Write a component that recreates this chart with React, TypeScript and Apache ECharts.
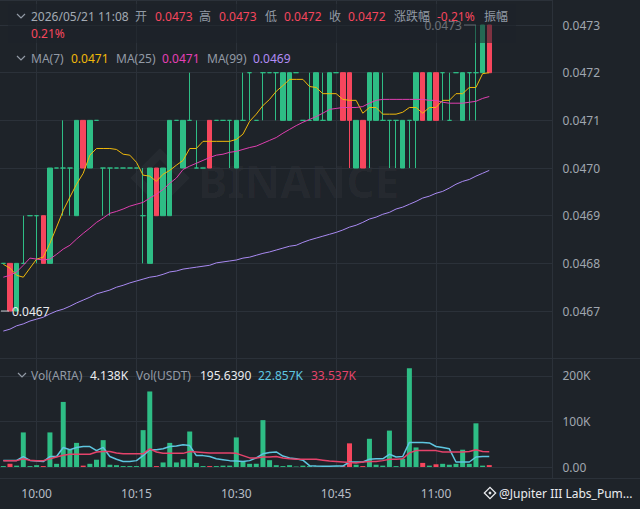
import React, { useEffect, useRef } from 'react';
import * as echarts from 'echarts';

const UP = '#2ebd85';
const DOWN = '#f6465d';
const GRID = '#2b3139';
const BG = '#1e2329';
const LABEL = '#929aa5';
const VALUE = '#eaecef';
const FONT = '"Noto Sans", "Noto Sans CJK SC", sans-serif';

// 1-minute candles, 09:55 .. 11:08, plus empty slots on the right
const firstMinute = 9 * 60 + 55;
const slotCount = 83;
const timeTicks = ['10:00', '10:15', '10:30', '10:45', '11:00'];

const opens = [
  0.0468, 0.0468, 0.0467, 0.0468, 0.0469, 0.0469, 0.0469, 0.0468, 0.047, 0.047,
  0.047, 0.0469, 0.0471, 0.047, 0.0471, 0.047, 0.047, 0.047, 0.047, 0.047,
  0.047, 0.0469, 0.0468, 0.047, 0.0469, 0.0469, 0.0471, 0.047, 0.0471, 0.047,
  0.047, 0.0471, 0.0471, 0.0471, 0.0471, 0.047, 0.0471, 0.0472, 0.0471, 0.0472,
  0.0472, 0.0472, 0.0471, 0.0471, 0.0472, 0.0471, 0.0471, 0.0471, 0.0471, 0.0471,
  0.0472, 0.0472, 0.0472, 0.047, 0.0471, 0.0471, 0.0471, 0.0471, 0.0471, 0.0471,
  0.047, 0.0471, 0.0471, 0.0472, 0.0471, 0.0472, 0.0472, 0.0471, 0.0472, 0.0471,
  0.0472, 0.0472, 0.0472, 0.0473,
];
const closes = [
  0.0468, 0.0467, 0.0468, 0.0468, 0.0469, 0.0469, 0.0468, 0.047, 0.047, 0.047,
  0.047, 0.0471, 0.047, 0.0471, 0.0471, 0.047, 0.047, 0.047, 0.047, 0.047,
  0.047, 0.0469, 0.047, 0.0469, 0.047, 0.0471, 0.0471, 0.0471, 0.0471, 0.047,
  0.047, 0.047, 0.0471, 0.0471, 0.0471, 0.0471, 0.0471, 0.0472, 0.0471, 0.0472,
  0.0472, 0.0472, 0.0472, 0.0472, 0.0472, 0.0471, 0.0471, 0.0472, 0.0471, 0.0472,
  0.0472, 0.0471, 0.0471, 0.0471, 0.047, 0.0472, 0.0472, 0.0471, 0.0471, 0.0471,
  0.0471, 0.0471, 0.0472, 0.0471, 0.0472, 0.0471, 0.0472, 0.0471, 0.0472, 0.0472,
  0.0472, 0.0472, 0.0473, 0.0472,
];
const lows = [
  0.0468, 0.0467, 0.0467, 0.0468, 0.0469, 0.0468, 0.0468, 0.0468, 0.047, 0.0469,
  0.0469, 0.0469, 0.047, 0.047, 0.0471, 0.0469, 0.0469, 0.047, 0.047, 0.047,
  0.047, 0.0468, 0.0468, 0.0469, 0.0469, 0.0469, 0.0471, 0.047, 0.0471, 0.047,
  0.047, 0.047, 0.0471, 0.0471, 0.047, 0.047, 0.0471, 0.0471, 0.0471, 0.0471,
  0.0472, 0.0471, 0.0471, 0.0471, 0.0472, 0.0471, 0.0471, 0.0471, 0.0471, 0.0471,
  0.0472, 0.0471, 0.047, 0.047, 0.047, 0.047, 0.0471, 0.0471, 0.047, 0.047,
  0.047, 0.047, 0.047, 0.0471, 0.0471, 0.0471, 0.0471, 0.0471, 0.0472, 0.0471,
  0.0471, 0.0471, 0.0472, 0.0472,
];
const highs = [
  0.0468, 0.0468, 0.0468, 0.0469, 0.0469, 0.0469, 0.0469, 0.047, 0.047, 0.0471,
  0.047, 0.0471, 0.0471, 0.0471, 0.0471, 0.047, 0.047, 0.047, 0.047, 0.047,
  0.047, 0.047, 0.047, 0.047, 0.047, 0.0471, 0.0471, 0.0471, 0.0472, 0.0471,
  0.047, 0.0471, 0.0471, 0.0471, 0.0471, 0.0471, 0.0472, 0.0472, 0.0471, 0.0472,
  0.0472, 0.0472, 0.0472, 0.0472, 0.0472, 0.0471, 0.0472, 0.0472, 0.0472, 0.0472,
  0.0472, 0.0472, 0.0472, 0.0471, 0.0471, 0.0472, 0.0472, 0.0472, 0.0471, 0.0471,
  0.0471, 0.0471, 0.0472, 0.0472, 0.0472, 0.0472, 0.0472, 0.0472, 0.0472, 0.0472,
  0.0472, 0.0473, 0.0473, 0.0473,
];
// volume, in thousands
const volumes = [
  2, 7, 3, 76, 2, 4, 2, 76, 7, 143,
  38, 53, 3, 7, 16, 59, 5, 4, 2, 2,
  2, 81, 166, 2, 10, 53, 10, 17, 78, 9,
  2, 2, 2, 3, 3, 65, 12, 7, 7, 103,
  15, 4, 2, 4, 1, 3, 2, 1, 1, 1,
  1, 2, 52, 5, 2, 62, 5, 3, 80, 2,
  18, 217, 43, 9, 3, 6, 7, 5, 7, 38,
  7, 96, 3, 4.138,
];
const ma7 = [
  0.046798, 0.04679, 0.046775, 0.046771, 0.04679, 0.046809, 0.046813, 0.046842, 0.046876, 0.046911,
  0.046939, 0.046966, 0.046989, 0.047027, 0.047041, 0.047041, 0.047041, 0.047039, 0.047029, 0.047027,
  0.047012, 0.046985, 0.046983, 0.046972, 0.046987, 0.046995, 0.047006, 0.047016, 0.047041, 0.047041,
  0.047056, 0.047056, 0.047056, 0.047056, 0.047056, 0.04706, 0.047071, 0.047098, 0.047113, 0.047131,
  0.047144, 0.047161, 0.047173, 0.047186, 0.047186, 0.047186, 0.047171, 0.047169, 0.047156, 0.047156,
  0.047156, 0.047144, 0.047142, 0.047142, 0.047115, 0.047127, 0.047127, 0.047113, 0.047113, 0.047113,
  0.047117, 0.047127, 0.047127, 0.047115, 0.047127, 0.047127, 0.047142, 0.047142, 0.047156, 0.047156,
  0.047169, 0.047169, 0.047198, 0.0472,
];
const ma25 = [
  0.046771, 0.046775, 0.046782, 0.046796, 0.046811, 0.046809, 0.046807, 0.046809, 0.046819, 0.04683,
  0.046838, 0.046851, 0.046863, 0.046874, 0.046886, 0.046895, 0.046905, 0.046909, 0.046914, 0.04692,
  0.046924, 0.046928, 0.046937, 0.046945, 0.046955, 0.046968, 0.046979, 0.046997, 0.047004, 0.04701,
  0.047016, 0.047022, 0.047027, 0.047029, 0.047033, 0.047035, 0.047039, 0.047043, 0.047046, 0.047052,
  0.047058, 0.047064, 0.047073, 0.047081, 0.047089, 0.047096, 0.047102, 0.047108, 0.047115, 0.047123,
  0.047125, 0.047127, 0.047127, 0.047127, 0.047129, 0.047136, 0.047142, 0.047144, 0.047144, 0.047144,
  0.047144, 0.047144, 0.047144, 0.047144, 0.047142, 0.047142, 0.047138, 0.047136, 0.047136, 0.047136,
  0.047138, 0.04714, 0.047146, 0.04715,
];
const ma99 = [
  0.046658, 0.046662, 0.046669, 0.046673, 0.046679, 0.046683, 0.046687, 0.046694, 0.0467, 0.046704,
  0.04671, 0.046717, 0.046723, 0.046729, 0.046736, 0.04674, 0.046744, 0.04675, 0.046754, 0.046759,
  0.046763, 0.046767, 0.046771, 0.046773, 0.046777, 0.046782, 0.046784, 0.046788, 0.04679, 0.046792,
  0.046794, 0.046796, 0.046801, 0.046803, 0.046805, 0.046807, 0.046811, 0.046813, 0.046817, 0.046821,
  0.046824, 0.046828, 0.046832, 0.046836, 0.046838, 0.046844, 0.046849, 0.046853, 0.046857, 0.046861,
  0.046865, 0.04687, 0.046876, 0.04688, 0.046886, 0.046893, 0.046897, 0.046903, 0.046907, 0.046914,
  0.046918, 0.046924, 0.04693, 0.046937, 0.046941, 0.046947, 0.046951, 0.046958, 0.046966, 0.046972,
  0.046976, 0.046983, 0.046989, 0.046995,
];
// volume averages, in thousands
const volMa5 = [
  14.5, 14.5, 14.5, 23, 14.5, 13, 12, 23, 23, 43,
  38, 43, 45, 45, 36, 43, 23, 17, 12, 12,
  14, 25, 38, 38, 40, 45, 46, 49, 47, 25,
  25, 23, 18, 16, 14, 13, 12, 14, 20, 29,
  32, 33, 24, 20, 18, 15, 3, 2, 1.5, 1.5,
  2, 2, 11, 11, 11, 17, 18, 18, 28, 22,
  23, 54, 54, 54, 53, 45, 43, 40, 11, 11,
  11, 22, 23, 22.857,
];
const volMa10 = [
  14, 14, 14, 18, 15, 14, 14, 18, 22, 26,
  28, 28, 28, 28, 33, 34, 34, 31, 29, 29,
  29, 29, 40, 33, 30, 30, 30, 30, 34, 33,
  32, 31, 31, 31, 31, 30, 25, 20, 20, 22,
  22, 23, 20, 18, 17, 17, 17, 17, 15, 13,
  12, 11, 10, 9, 11, 12, 12, 14, 17, 17,
  18, 31, 36, 36, 36, 36, 33, 33, 33, 33,
  34, 38, 34, 33.537,
];
const headerTime = '2026/05/21 11:08';
const maLegend = ['0.0471', '0.0471', '0.0469'];
const volLegend = ['4.138K', '195.6390', '22.857K', '33.537K'];

const times = Array.from({ length: slotCount }, (_, i) => {
  const m = firstMinute + i;
  return String(Math.floor(m / 60)).padStart(2, '0') + ':' + String(m % 60).padStart(2, '0');
});

function txt(x: number, y: number, text: string, fill: string, extra: any = {}) {
  return {
    type: 'text', x, y, z: 101, silent: true,
    style: { text, fill, fontSize: 12, fontFamily: FONT, verticalAlign: 'middle', ...extra },
  };
}
function chevron(x: number, y: number) {
  return {
    type: 'polyline', z: 101, silent: true,
    shape: { points: [[x, y], [x + 4, y + 4], [x + 8, y]] },
    style: { stroke: LABEL, lineWidth: 1.2, fill: 'none' },
  };
}

export default function App() {
  const ref = useRef<HTMLDivElement>(null);
  useEffect(() => {
    if (!ref.current) return;
    const chart = echarts.init(ref.current, null, { renderer: 'svg' });
    const L = opens.length - 1;
    const prevClose = closes[L - 1];
    const chg = ((closes[L] - prevClose) / prevClose) * 100;
    const amp = ((highs[L] - lows[L]) / prevClose) * 100;
    const lastColor = closes[L] < opens[L] ? DOWN : UP;

    const candleData = opens.map((o, i) => {
      const v = [o, closes[i], lows[i], highs[i]];
      if (o === closes[i]) {
        return { value: v, itemStyle: { color: UP, color0: UP, borderColor: UP, borderColor0: UP } };
      }
      return v;
    });
    const volData = volumes.map((v, i) => ({
      value: v,
      itemStyle: { color: closes[i] < opens[i] ? DOWN : UP },
    }));
    const vLines = timeTicks.map((t) => ({ xAxis: t }));

    const wm = 'rgba(255,255,255,0.035)';
    const graphic: any[] = [
      // watermark
      { type: 'rect', x: 160, y: 178, rotation: Math.PI / 4, z: 0, silent: true,
        shape: { x: -17, y: -17, width: 34, height: 34 }, style: { fill: 'none', stroke: wm, lineWidth: 8 } },
      { type: 'rect', x: 160, y: 178, rotation: Math.PI / 4, z: 0, silent: true,
        shape: { x: -5, y: -5, width: 10, height: 10 }, style: { fill: wm } },
      { type: 'text', x: 198, y: 181, z: 0, silent: true,
        style: { text: 'BINANCE', fill: wm, fontSize: 44, fontWeight: 'bold', fontFamily: FONT, verticalAlign: 'middle' } },
      // header backdrop
      { type: 'rect', z: 100, silent: true, shape: { x: 8, y: 4, width: 508, height: 39 },
        style: { fill: 'rgba(30,35,41,0.55)' } },
      chevron(17, 14),
      txt(31, 16, headerTime, '#a3aab3'),
      txt(135, 16, '开', LABEL), txt(155, 16, opens[L].toFixed(4), lastColor),
      txt(199, 16, '高', LABEL), txt(219, 16, highs[L].toFixed(4), lastColor),
      txt(265, 16, '低', LABEL), txt(284, 16, lows[L].toFixed(4), lastColor),
      txt(329, 16, '收', LABEL), txt(348, 16, closes[L].toFixed(4), lastColor),
      txt(394, 16, '涨跌幅', LABEL), txt(437, 16, chg.toFixed(2) + '%', lastColor),
      txt(484, 16, '振幅', LABEL),
      txt(31, 33, amp.toFixed(2) + '%', lastColor),
      chevron(17, 56),
      txt(31, 58.5, 'MA(7)', LABEL), txt(71, 58.5, maLegend[0], '#f0b90b'),
      txt(116, 58.5, 'MA(25)', LABEL), txt(162, 58.5, maLegend[1], '#e540b6'),
      txt(207, 58.5, 'MA(99)', LABEL), txt(253, 58.5, maLegend[2], '#b28cf5'),
      chevron(18, 373),
      txt(31, 375.5, 'Vol(ARIA)', LABEL), txt(90, 375.5, volLegend[0], VALUE),
      txt(136, 375.5, 'Vol(USDT)', LABEL), txt(200, 375.5, volLegend[1], VALUE),
      txt(258, 375.5, volLegend[2], '#5ec6e0'), txt(311, 375.5, volLegend[3], '#e5436b'),
      // panel separators
      { type: 'line', z: 1, silent: true, shape: { x1: 0, y1: 478.5, x2: 640, y2: 478.5 }, style: { stroke: GRID, lineWidth: 1 } },
      { type: 'line', z: 1, silent: true, shape: { x1: 552.5, y1: 467, x2: 552.5, y2: 478 }, style: { stroke: GRID, lineWidth: 1 } },
      { type: 'line', z: 1, silent: true, shape: { x1: 552, y1: 358.5, x2: 640, y2: 358.5 }, style: { stroke: GRID, lineWidth: 1 } },
      // footer credit
      { type: 'rect', x: 490, y: 493, rotation: Math.PI / 4, z: 101, silent: true,
        shape: { x: -4, y: -4, width: 8, height: 8 }, style: { fill: 'none', stroke: VALUE, lineWidth: 1.3 } },
      { type: 'rect', x: 490, y: 493, rotation: Math.PI / 4, z: 101, silent: true,
        shape: { x: -1.2, y: -1.2, width: 2.4, height: 2.4 }, style: { fill: VALUE } },
      txt(499, 493, '@Jupiter III Labs_Pum...', VALUE),
    ];

    const option: any = {
      animation: false,
      backgroundColor: BG,
      textStyle: { fontFamily: FONT },
      graphic,
      grid: [
        { left: -0.5, width: 553, top: 0, height: 358.7 },
        { left: -0.5, width: 553, top: 358.7, height: 108.3 },
      ],
      xAxis: [
        { type: 'category', gridIndex: 0, data: times, boundaryGap: true,
          axisLine: { show: false }, axisTick: { show: false }, axisLabel: { show: false }, splitLine: { show: false } },
        { type: 'category', gridIndex: 1, data: times, boundaryGap: true,
          axisLine: { show: false }, axisTick: { show: false }, splitLine: { show: false },
          axisLabel: { color: '#b7bdc6', fontSize: 12, margin: 20,
            interval: (_: number, v: string) => timeTicks.includes(v) } },
      ],
      yAxis: [
        { type: 'value', gridIndex: 0, position: 'right', min: 0.0466, max: 0.0473525, interval: 0.0001,
          axisLine: { show: true, lineStyle: { color: GRID } }, axisTick: { show: false },
          splitLine: { lineStyle: { color: GRID } },
          axisLabel: { color: '#a0a7b0', fontSize: 12, margin: 10, showMinLabel: false, showMaxLabel: false,
            formatter: (v: number) => v.toFixed(4) } },
        { type: 'value', gridIndex: 1, position: 'right', min: 0, max: 238, interval: 100,
          axisLine: { show: true, lineStyle: { color: GRID } }, axisTick: { show: false },
          splitLine: { lineStyle: { color: GRID } },
          axisLabel: { color: '#a0a7b0', fontSize: 12, margin: 10, showMaxLabel: false,
            formatter: (v: number) => (v === 0 ? '0.00' : v + 'K') } },
      ],
      series: [
        {
          type: 'candlestick', xAxisIndex: 0, yAxisIndex: 0, barWidth: 5, data: candleData,
          itemStyle: { color: UP, color0: DOWN, borderColor: UP, borderColor0: DOWN, borderWidth: 1 },
          markLine: {
            silent: true, z: 0, symbol: ['none', 'none'], label: { show: false },
            lineStyle: { color: GRID, width: 1, type: 'solid' },
            data: [
              ...vLines,
              { yAxis: closes[L], lineStyle: { opacity: 0 }, z: 5,
                label: { show: true, position: 'end', distance: 3, formatter: closes[L].toFixed(4),
                  backgroundColor: lastColor, color: '#ffffff', borderRadius: 4, padding: [4, 8],
                  fontSize: 12, lineHeight: 13 } },
            ],
          },
          markPoint: {
            silent: true,
            label: { show: true, fontSize: 12, formatter: (p: any) => Number(p.value).toFixed(4) },
            data: [
              { type: 'max', valueDim: 'highest', symbol: 'rect', symbolSize: [12, 1], symbolOffset: [-6, 0],
                itemStyle: { color: '#b7bdc6' }, label: { position: 'left', distance: 2, color: '#c8cdd3' } },
              { type: 'min', valueDim: 'lowest', symbol: 'rect', symbolSize: [8, 1], symbolOffset: [-5, 0],
                itemStyle: { color: '#c8cdd3' }, label: { position: 'right', distance: 3, color: VALUE } },
            ],
          },
        },
        { type: 'line', name: 'MA7', xAxisIndex: 0, yAxisIndex: 0, data: ma7, symbol: 'none',
          lineStyle: { color: '#f0b90b', width: 1 }, z: 3 },
        { type: 'line', name: 'MA25', xAxisIndex: 0, yAxisIndex: 0, data: ma25, symbol: 'none',
          lineStyle: { color: '#e03fb0', width: 1 }, z: 3 },
        { type: 'line', name: 'MA99', xAxisIndex: 0, yAxisIndex: 0, data: ma99, symbol: 'none',
          lineStyle: { color: '#a98af2', width: 1 }, z: 3 },
        {
          type: 'bar', xAxisIndex: 1, yAxisIndex: 1, barWidth: 5, data: volData, clip: false,
          markLine: {
            silent: true, z: 0, symbol: ['none', 'none'], label: { show: false },
            lineStyle: { color: GRID, width: 1, type: 'solid' }, data: vLines,
          },
        },
        { type: 'line', xAxisIndex: 1, yAxisIndex: 1, data: volMa5, symbol: 'none',
          lineStyle: { color: '#5ec6e0', width: 1.5 }, z: 3 },
        { type: 'line', xAxisIndex: 1, yAxisIndex: 1, data: volMa10, symbol: 'none',
          lineStyle: { color: '#e5436b', width: 1.5 }, z: 3 },
      ],
    };
    chart.setOption(option);
    return () => chart.dispose();
  }, []);
  return (
    <div
      ref={ref}
      style={{ position: 'absolute', left: 0, top: 0, width: 640, height: 509 }}
    />
  );
}
